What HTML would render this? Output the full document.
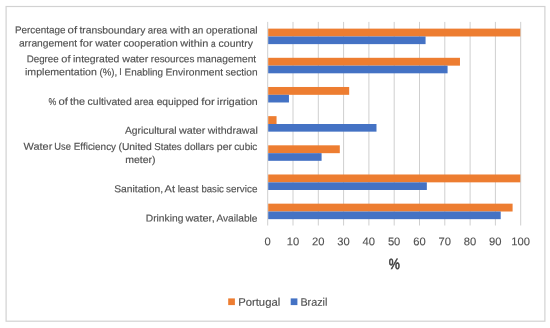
<!DOCTYPE html>
<html lang="en">
<head>
<meta charset="utf-8">
<title>Portugal vs Brazil water indicators</title>
<style>
html,body{margin:0;padding:0;background:#fff;}
body{width:550px;height:328px;overflow:hidden;}
svg{display:block;}
text{font-family:"Liberation Sans",sans-serif;fill:#505050;}
</style>
</head>
<body>
<svg width="550" height="328" viewBox="0 0 550 328">
<rect x="0" y="0" width="550" height="328" fill="#ffffff"/>
<rect x="6.1" y="6.5" width="538.8" height="314.7" fill="#ffffff" stroke="#D2D2D2" stroke-width="1.2"/>

<g stroke="#CFCFCF" stroke-width="1">
<line x1="267.70" y1="21.90" x2="267.70" y2="225.50"/>
<line x1="293.00" y1="21.90" x2="293.00" y2="225.50"/>
<line x1="318.30" y1="21.90" x2="318.30" y2="225.50"/>
<line x1="343.60" y1="21.90" x2="343.60" y2="225.50"/>
<line x1="368.90" y1="21.90" x2="368.90" y2="225.50"/>
<line x1="394.20" y1="21.90" x2="394.20" y2="225.50"/>
<line x1="419.50" y1="21.90" x2="419.50" y2="225.50"/>
<line x1="444.80" y1="21.90" x2="444.80" y2="225.50"/>
<line x1="470.10" y1="21.90" x2="470.10" y2="225.50"/>
<line x1="495.40" y1="21.90" x2="495.40" y2="225.50"/>
<line x1="520.70" y1="21.90" x2="520.70" y2="225.50"/>
</g>
<rect x="268.20" y="28.63" width="252.12" height="7.85" fill="#ED7D31"/>
<rect x="268.20" y="36.48" width="157.37" height="7.65" fill="#4472C4"/>
<rect x="268.20" y="57.80" width="191.78" height="7.85" fill="#ED7D31"/>
<rect x="268.20" y="65.66" width="179.38" height="7.65" fill="#4472C4"/>
<rect x="268.20" y="86.98" width="80.97" height="7.85" fill="#ED7D31"/>
<rect x="268.20" y="94.83" width="20.75" height="7.65" fill="#4472C4"/>
<rect x="268.20" y="116.15" width="8.35" height="7.85" fill="#ED7D31"/>
<rect x="268.20" y="124.00" width="108.29" height="7.65" fill="#4472C4"/>
<rect x="268.20" y="145.32" width="71.60" height="7.85" fill="#ED7D31"/>
<rect x="268.20" y="153.17" width="53.39" height="7.65" fill="#4472C4"/>
<rect x="268.20" y="174.49" width="252.12" height="7.85" fill="#ED7D31"/>
<rect x="268.20" y="182.34" width="158.64" height="7.65" fill="#4472C4"/>
<rect x="268.20" y="203.66" width="244.40" height="7.85" fill="#ED7D31"/>
<rect x="268.20" y="211.51" width="232.51" height="7.65" fill="#4472C4"/>
<g font-size="9.95" stroke="#505050" stroke-width="0.15">
<text transform="translate(136.30,33.40) rotate(0.03)"><tspan x="-121.35" textLength="50.42" lengthAdjust="spacingAndGlyphs">Percentage</tspan> <tspan x="-68.71" textLength="9.51" lengthAdjust="spacingAndGlyphs">of</tspan> <tspan x="-56.92" textLength="65.98" lengthAdjust="spacingAndGlyphs">transboundary</tspan> <tspan x="11.48" textLength="19.40" lengthAdjust="spacingAndGlyphs">area</tspan> <tspan x="33.78" textLength="19.83" lengthAdjust="spacingAndGlyphs">with</tspan> <tspan x="56.04" textLength="11.09" lengthAdjust="spacingAndGlyphs">an</tspan> <tspan x="69.77" textLength="51.46" lengthAdjust="spacingAndGlyphs">operational</tspan></text>
<text transform="translate(136.10,46.60) rotate(0.03)"><tspan x="-117.22" textLength="58.16" lengthAdjust="spacingAndGlyphs">arrangement</tspan> <tspan x="-56.39" textLength="12.98" lengthAdjust="spacingAndGlyphs">for</tspan> <tspan x="-40.98" textLength="26.18" lengthAdjust="spacingAndGlyphs">water</tspan> <tspan x="-12.72" textLength="54.35" lengthAdjust="spacingAndGlyphs">cooperation</tspan> <tspan x="44.11" textLength="28.09" lengthAdjust="spacingAndGlyphs">within</tspan> <tspan x="74.80" textLength="4.67" lengthAdjust="spacingAndGlyphs">a</tspan> <tspan x="82.46" textLength="34.39" lengthAdjust="spacingAndGlyphs">country</tspan></text>
<text transform="translate(141.70,62.30) rotate(0.03)"><tspan x="-114.99" textLength="31.95" lengthAdjust="spacingAndGlyphs">Degree</tspan> <tspan x="-80.35" textLength="9.12" lengthAdjust="spacingAndGlyphs">of</tspan> <tspan x="-68.68" textLength="46.34" lengthAdjust="spacingAndGlyphs">integrated</tspan> <tspan x="-19.54" textLength="26.16" lengthAdjust="spacingAndGlyphs">water</tspan> <tspan x="9.15" textLength="43.50" lengthAdjust="spacingAndGlyphs">resources</tspan> <tspan x="55.12" textLength="59.37" lengthAdjust="spacingAndGlyphs">management</tspan></text>
<text transform="translate(141.40,75.40) rotate(0.03)"><tspan x="-116.41" textLength="71.77" lengthAdjust="spacingAndGlyphs">implementation</tspan> <tspan x="-41.90" textLength="17.75" lengthAdjust="spacingAndGlyphs">(%),</tspan> <tspan x="-22.10" textLength="2.32" lengthAdjust="spacingAndGlyphs">I</tspan> <tspan x="-16.80" textLength="38.51" lengthAdjust="spacingAndGlyphs">Enabling</tspan> <tspan x="24.00" textLength="57.66" lengthAdjust="spacingAndGlyphs">Environment</tspan> <tspan x="84.08" textLength="32.13" lengthAdjust="spacingAndGlyphs">section</tspan></text>
<text transform="translate(152.80,104.90) rotate(0.03)"><tspan x="-104.41" textLength="7.81" lengthAdjust="spacingAndGlyphs">%</tspan> <tspan x="-94.21" textLength="9.38" lengthAdjust="spacingAndGlyphs">of</tspan> <tspan x="-82.77" textLength="15.10" lengthAdjust="spacingAndGlyphs">the</tspan> <tspan x="-65.21" textLength="44.13" lengthAdjust="spacingAndGlyphs">cultivated</tspan> <tspan x="-18.44" textLength="19.40" lengthAdjust="spacingAndGlyphs">area</tspan> <tspan x="3.84" textLength="42.06" lengthAdjust="spacingAndGlyphs">equipped</tspan> <tspan x="48.51" textLength="13.47" lengthAdjust="spacingAndGlyphs">for</tspan> <tspan x="64.30" textLength="40.66" lengthAdjust="spacingAndGlyphs">irrigation</tspan></text>
<text transform="translate(191.00,133.70) rotate(0.03)"><tspan x="-66.06" textLength="51.57" lengthAdjust="spacingAndGlyphs">Agricultural</tspan> <tspan x="-11.95" textLength="26.32" lengthAdjust="spacingAndGlyphs">water</tspan> <tspan x="16.70" textLength="50.08" lengthAdjust="spacingAndGlyphs">withdrawal</tspan></text>
<text transform="translate(140.45,149.90) rotate(0.03)"><tspan x="-116.87" textLength="28.68" lengthAdjust="spacingAndGlyphs">Water</tspan> <tspan x="-86.10" textLength="16.65" lengthAdjust="spacingAndGlyphs">Use</tspan> <tspan x="-66.77" textLength="42.41" lengthAdjust="spacingAndGlyphs">Efficiency</tspan> <tspan x="-22.02" textLength="33.38" lengthAdjust="spacingAndGlyphs">(United</tspan> <tspan x="13.82" textLength="27.44" lengthAdjust="spacingAndGlyphs">States</tspan> <tspan x="43.86" textLength="29.82" lengthAdjust="spacingAndGlyphs">dollars</tspan> <tspan x="76.29" textLength="15.35" lengthAdjust="spacingAndGlyphs">per</tspan> <tspan x="93.71" textLength="23.16" lengthAdjust="spacingAndGlyphs">cubic</tspan></text>
<text transform="translate(140.50,163.10) rotate(0.03)"><tspan x="-15.34" textLength="30.43" lengthAdjust="spacingAndGlyphs">meter)</tspan></text>
<text transform="translate(185.90,192.30) rotate(0.03)"><tspan x="-71.72" textLength="48.84" lengthAdjust="spacingAndGlyphs">Sanitation,</tspan> <tspan x="-21.36" textLength="10.42" lengthAdjust="spacingAndGlyphs">At</tspan> <tspan x="-8.25" textLength="20.95" lengthAdjust="spacingAndGlyphs">least</tspan> <tspan x="15.50" textLength="22.45" lengthAdjust="spacingAndGlyphs">basic</tspan> <tspan x="40.19" textLength="31.35" lengthAdjust="spacingAndGlyphs">service</tspan></text>
<text transform="translate(201.75,221.60) rotate(0.03)"><tspan x="-56.00" textLength="37.61" lengthAdjust="spacingAndGlyphs">Drinking</tspan> <tspan x="-16.35" textLength="29.29" lengthAdjust="spacingAndGlyphs">water,</tspan> <tspan x="14.69" textLength="40.99" lengthAdjust="spacingAndGlyphs">Available</tspan></text>
</g>
<g font-size="11.2" text-anchor="middle" stroke="#505050" stroke-width="0.12">
<text transform="translate(267.60,245.3) rotate(0.03)">0</text>
<text transform="translate(292.90,245.3) rotate(0.03)">10</text>
<text transform="translate(318.20,245.3) rotate(0.03)">20</text>
<text transform="translate(343.50,245.3) rotate(0.03)">30</text>
<text transform="translate(368.80,245.3) rotate(0.03)">40</text>
<text transform="translate(394.10,245.3) rotate(0.03)">50</text>
<text transform="translate(419.40,245.3) rotate(0.03)">60</text>
<text transform="translate(444.70,245.3) rotate(0.03)">70</text>
<text transform="translate(470.00,245.3) rotate(0.03)">80</text>
<text transform="translate(495.30,245.3) rotate(0.03)">90</text>
<text transform="translate(520.60,245.3) rotate(0.03)">100</text>
</g>
<text transform="translate(394.2,269) rotate(0.03)" x="0" y="0" font-size="14.8" text-anchor="middle" textLength="11.1" lengthAdjust="spacingAndGlyphs" style="fill:#404040;stroke:#404040;stroke-width:0.6">%</text>
<rect x="228.2" y="298.4" width="6.7" height="6.7" fill="#ED7D31"/>
<text transform="translate(238.2,305.7) rotate(0.03)" stroke="#505050" stroke-width="0.15" font-size="10.9" textLength="42" lengthAdjust="spacingAndGlyphs">Portugal</text>
<rect x="290.7" y="298.4" width="6.7" height="6.7" fill="#4472C4"/>
<text transform="translate(300.4,305.7) rotate(0.03)" stroke="#505050" stroke-width="0.15" font-size="10.9" textLength="27" lengthAdjust="spacingAndGlyphs">Brazil</text>
</svg>
</body>
</html>
